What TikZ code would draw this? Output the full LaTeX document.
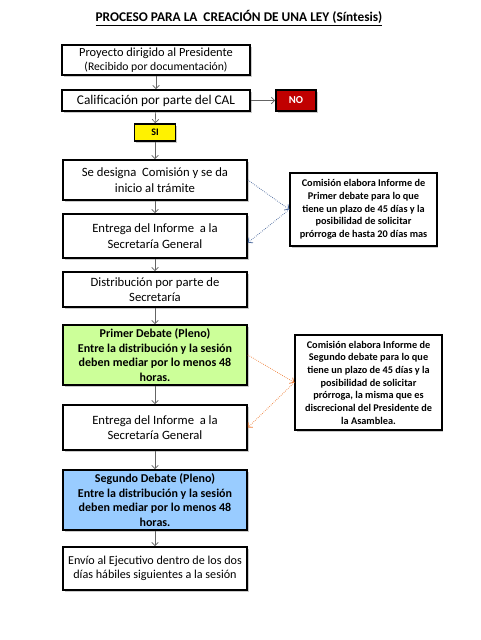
\documentclass[tikz,border=0pt]{standalone}
\usepackage{fontspec}
\setmainfont{Carlito}
\usetikzlibrary{arrows.meta,shadows}
\definecolor{verde}{RGB}{204,255,153}
\definecolor{celeste}{RGB}{153,204,255}
\definecolor{rojo}{RGB}{192,0,0}
\definecolor{lineagris}{RGB}{100,100,100}
\definecolor{azulpunto}{RGB}{80,110,160}
\definecolor{naranja}{RGB}{240,130,60}
\begin{document}
\begin{tikzpicture}[x=0.75pt,y=-0.75pt,
	caja/.style={draw,line width=1.3pt,fill=white,align=center,inner sep=1pt,minimum width=138pt,font=\fontsize{9.5}{11.5}\selectfont,drop shadow={shadow xshift=1.2pt,shadow yshift=-1.2pt,fill=black!40}},
	lado/.style={caja,minimum width=110pt,font=\bfseries\fontsize{7.7}{9.5}\selectfont},
	debate/.style={caja,minimum height=45pt,font=\bfseries\fontsize{9}{11}\selectfont},
	flecha/.style={draw=lineagris,line width=0.5pt,-{Straight Barb[length=2.5pt,width=5pt]}},
	punteada/.style={flecha,densely dotted,line width=0.6pt}]
	\fill [white] (0,0) rectangle (480,640);
	\useasboundingbox (0,0) rectangle (480,640);
	%Titulo
	\node (titulo) at (239,18) {\bfseries\fontsize{10}{12}\selectfont\underline{PROCESO PARA LA\ \ CREACIÓN DE UNA LEY (Síntesis)}};
	%Cajas principales
	\node [caja,minimum width=141pt,minimum height=22.5pt,font=\fontsize{9.3}{10.5}\selectfont] (proyecto) at (156,60) {Proyecto dirigido al Presidente\\{\fontsize{8.75}{10.5}\selectfont(Recibido por documentación)}};
	\node [caja,minimum width=141pt,minimum height=15.75pt,font=\fontsize{10}{12}\selectfont] (calif) at (156,100.5) {Calificación por parte del CAL};
	\node [caja,minimum width=30pt,minimum height=15.75pt,fill=rojo,text=white,font=\bfseries\fontsize{8}{9}\selectfont] (no) at (296,100.5) {NO};
	\node [caja,minimum width=30.75pt,minimum height=12.75pt,fill=yellow,font=\bfseries\fontsize{7.5}{9}\selectfont] (si) at (155,132.5) {SI};
	\node [caja,minimum height=30pt] (designa) at (155,180) {Se designa\ \ Comisión y se da\\inicio al trámite};
	\node [caja,minimum height=33pt] (entrega1) at (155,236) {Entrega del Informe\ \ a la\\Secretaría General};
	\node [caja,minimum height=26.25pt] (distrib) at (155,289.5) {Distribución por parte de\\Secretaría};
	\node [debate,fill=verde] (primer) at (155,355) {Primer Debate (Pleno)\\Entre la distribución y la sesión\\deben mediar por lo menos 48\\horas.};
	\node [caja,minimum height=33.75pt] (entrega2) at (155,427.5) {Entrega del Informe\ \ a la\\Secretaría General};
	\node [debate,fill=celeste] (segundo) at (155,500) {Segundo Debate (Pleno)\\Entre la distribución y la sesión\\deben mediar por lo menos 48\\horas.};
	\node [caja,minimum height=32.25pt,font=\fontsize{9.1}{10.2}\selectfont] (envio) at (155,568.5) {Envío al Ejecutivo dentro de los dos\\días hábiles siguientes a la sesión};
	%Informes de comision
	\node [lado,minimum height=54.75pt] (com1) at (363.5,209.5) {Comisión elabora Informe de\\Primer debate para lo que\\tiene un plazo de 45 días y la\\posibilidad de solicitar\\prórroga de hasta 20 días mas};
	\node [lado,minimum height=71.25pt] (com2) at (368.5,382.5) {Comisión elabora Informe de\\Segundo debate para lo que\\tiene un plazo de 45 días y la\\posibilidad de solicitar\\prórroga, la misma que es\\discrecional del Presidente de\\la Asamblea.};
	%Flechas
	\draw [flecha] (proyecto) -- (calif);
	\draw [flecha] (calif) -- (no);
	\draw [flecha] (calif) -- (si);
	\draw [flecha] (si) -- (designa);
	\draw [flecha] (designa) -- (entrega1);
	\draw [flecha] (entrega1) -- (distrib);
	\draw [flecha] (distrib) -- (primer);
	\draw [flecha] (primer) -- (entrega2);
	\draw [flecha] (entrega2) -- (segundo);
	\draw [flecha] (segundo) -- (envio);
	\draw [punteada,draw=azulpunto] (designa.east) -- (com1.west);
	\draw [punteada,draw=azulpunto] (com1.west) -- ([yshift=-5pt]entrega1.east);
	\draw [punteada,draw=naranja] (primer.east) -- (com2.west);
	\draw [punteada,draw=naranja] (com2.west) -- (entrega2.east);
\end{tikzpicture}
\end{document}
